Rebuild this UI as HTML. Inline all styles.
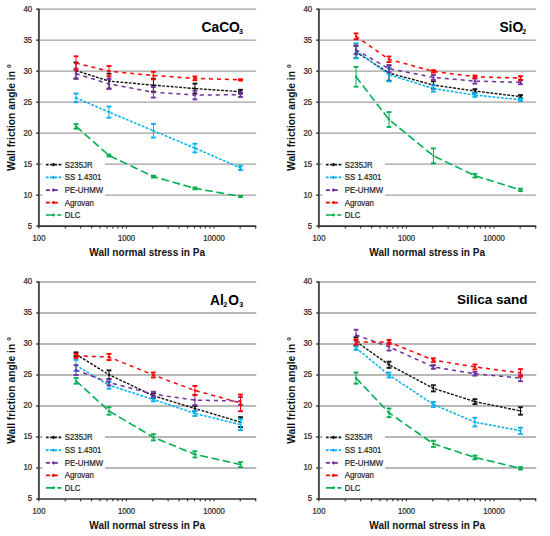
<!DOCTYPE html>
<html><head><meta charset="utf-8"><style>
html,body{margin:0;padding:0;background:#fff;width:550px;height:536px;overflow:hidden;position:relative}
</style></head><body>
<svg width="550" height="536" viewBox="0 0 550 536" style="position:absolute;left:0;top:0">
<rect width="550" height="536" fill="#fff"/>
<g transform="translate(0,0)">
<line x1="38.9" y1="195.2" x2="256.3" y2="195.2" stroke="#a0a0a0" stroke-width="1.3"/>
<line x1="38.9" y1="164.2" x2="256.3" y2="164.2" stroke="#a0a0a0" stroke-width="1.3"/>
<line x1="38.9" y1="133.2" x2="256.3" y2="133.2" stroke="#a0a0a0" stroke-width="1.3"/>
<line x1="38.9" y1="102.2" x2="256.3" y2="102.2" stroke="#a0a0a0" stroke-width="1.3"/>
<line x1="38.9" y1="71.2" x2="256.3" y2="71.2" stroke="#a0a0a0" stroke-width="1.3"/>
<line x1="38.9" y1="40.2" x2="256.3" y2="40.2" stroke="#a0a0a0" stroke-width="1.3"/>
<line x1="38.9" y1="9.2" x2="256.3" y2="9.2" stroke="#a0a0a0" stroke-width="1.3"/>
<line x1="36.4" y1="226.2" x2="38.9" y2="226.2" stroke="#303030" stroke-width="1.6"/>
<text transform="translate(32.1,228.6) scale(1,1.12)" text-anchor="end" font-family='"Liberation Sans", sans-serif' font-size="7.8" fill="#2a2a2a" stroke="#2a2a2a" stroke-width="0.22">5</text>
<line x1="36.4" y1="195.2" x2="38.9" y2="195.2" stroke="#303030" stroke-width="1.6"/>
<text transform="translate(32.1,197.6) scale(1,1.12)" text-anchor="end" font-family='"Liberation Sans", sans-serif' font-size="7.8" fill="#2a2a2a" stroke="#2a2a2a" stroke-width="0.22">10</text>
<line x1="36.4" y1="164.2" x2="38.9" y2="164.2" stroke="#303030" stroke-width="1.6"/>
<text transform="translate(32.1,166.6) scale(1,1.12)" text-anchor="end" font-family='"Liberation Sans", sans-serif' font-size="7.8" fill="#2a2a2a" stroke="#2a2a2a" stroke-width="0.22">15</text>
<line x1="36.4" y1="133.2" x2="38.9" y2="133.2" stroke="#303030" stroke-width="1.6"/>
<text transform="translate(32.1,135.6) scale(1,1.12)" text-anchor="end" font-family='"Liberation Sans", sans-serif' font-size="7.8" fill="#2a2a2a" stroke="#2a2a2a" stroke-width="0.22">20</text>
<line x1="36.4" y1="102.2" x2="38.9" y2="102.2" stroke="#303030" stroke-width="1.6"/>
<text transform="translate(32.1,104.6) scale(1,1.12)" text-anchor="end" font-family='"Liberation Sans", sans-serif' font-size="7.8" fill="#2a2a2a" stroke="#2a2a2a" stroke-width="0.22">25</text>
<line x1="36.4" y1="71.2" x2="38.9" y2="71.2" stroke="#303030" stroke-width="1.6"/>
<text transform="translate(32.1,73.6) scale(1,1.12)" text-anchor="end" font-family='"Liberation Sans", sans-serif' font-size="7.8" fill="#2a2a2a" stroke="#2a2a2a" stroke-width="0.22">30</text>
<line x1="36.4" y1="40.2" x2="38.9" y2="40.2" stroke="#303030" stroke-width="1.6"/>
<text transform="translate(32.1,42.6) scale(1,1.12)" text-anchor="end" font-family='"Liberation Sans", sans-serif' font-size="7.8" fill="#2a2a2a" stroke="#2a2a2a" stroke-width="0.22">35</text>
<line x1="36.4" y1="9.2" x2="38.9" y2="9.2" stroke="#303030" stroke-width="1.6"/>
<text transform="translate(32.1,11.6) scale(1,1.12)" text-anchor="end" font-family='"Liberation Sans", sans-serif' font-size="7.8" fill="#2a2a2a" stroke="#2a2a2a" stroke-width="0.22">40</text>
<line x1="38.9" y1="226.2" x2="38.9" y2="228.4" stroke="#303030" stroke-width="1.2"/>
<line x1="65.24" y1="226.2" x2="65.24" y2="228.4" stroke="#303030" stroke-width="1.2"/>
<line x1="80.65" y1="226.2" x2="80.65" y2="228.4" stroke="#303030" stroke-width="1.2"/>
<line x1="91.58" y1="226.2" x2="91.58" y2="228.4" stroke="#303030" stroke-width="1.2"/>
<line x1="100.06" y1="226.2" x2="100.06" y2="228.4" stroke="#303030" stroke-width="1.2"/>
<line x1="106.99" y1="226.2" x2="106.99" y2="228.4" stroke="#303030" stroke-width="1.2"/>
<line x1="112.85" y1="226.2" x2="112.85" y2="228.4" stroke="#303030" stroke-width="1.2"/>
<line x1="117.92" y1="226.2" x2="117.92" y2="228.4" stroke="#303030" stroke-width="1.2"/>
<line x1="122.4" y1="226.2" x2="122.4" y2="228.4" stroke="#303030" stroke-width="1.2"/>
<line x1="126.4" y1="226.2" x2="126.4" y2="228.4" stroke="#303030" stroke-width="1.2"/>
<line x1="152.74" y1="226.2" x2="152.74" y2="228.4" stroke="#303030" stroke-width="1.2"/>
<line x1="168.15" y1="226.2" x2="168.15" y2="228.4" stroke="#303030" stroke-width="1.2"/>
<line x1="179.08" y1="226.2" x2="179.08" y2="228.4" stroke="#303030" stroke-width="1.2"/>
<line x1="187.56" y1="226.2" x2="187.56" y2="228.4" stroke="#303030" stroke-width="1.2"/>
<line x1="194.49" y1="226.2" x2="194.49" y2="228.4" stroke="#303030" stroke-width="1.2"/>
<line x1="200.35" y1="226.2" x2="200.35" y2="228.4" stroke="#303030" stroke-width="1.2"/>
<line x1="205.42" y1="226.2" x2="205.42" y2="228.4" stroke="#303030" stroke-width="1.2"/>
<line x1="209.9" y1="226.2" x2="209.9" y2="228.4" stroke="#303030" stroke-width="1.2"/>
<line x1="213.9" y1="226.2" x2="213.9" y2="228.4" stroke="#303030" stroke-width="1.2"/>
<line x1="240.24" y1="226.2" x2="240.24" y2="228.4" stroke="#303030" stroke-width="1.2"/>
<line x1="255.65" y1="226.2" x2="255.65" y2="228.4" stroke="#303030" stroke-width="1.2"/>
<text transform="translate(39,240.8) scale(1,1.12)" text-anchor="middle" font-family='"Liberation Sans", sans-serif' font-size="7.7" fill="#2a2a2a" stroke="#2a2a2a" stroke-width="0.22">100</text>
<text transform="translate(126.5,240.8) scale(1,1.12)" text-anchor="middle" font-family='"Liberation Sans", sans-serif' font-size="7.7" fill="#2a2a2a" stroke="#2a2a2a" stroke-width="0.22">1000</text>
<text transform="translate(214,240.8) scale(1,1.12)" text-anchor="middle" font-family='"Liberation Sans", sans-serif' font-size="7.7" fill="#2a2a2a" stroke="#2a2a2a" stroke-width="0.22">10000</text>
<line x1="38.9" y1="8.7" x2="38.9" y2="227.0" stroke="#474747" stroke-width="1.9"/>
<line x1="38.0" y1="226.2" x2="256.3" y2="226.2" stroke="#333" stroke-width="1.7"/>
<text x="89.3" y="256.2" font-family='"Liberation Sans", sans-serif' font-weight="bold" font-size="10.05" fill="#111">Wall normal stress in Pa</text>
<text transform="translate(15.0,117.5) rotate(-90)" text-anchor="middle" font-family='"Liberation Sans", sans-serif' font-weight="bold" font-size="10.25" fill="#111">Wall friction angle in °</text>
<rect x="42.5" y="157" width="62.5" height="64" fill="#fff"/>
<line x1="45.9" y1="164.6" x2="61.4" y2="164.6" stroke="#111111" stroke-width="1.7" stroke-dasharray="2.8 1.4"/>
<path d="M51.5,164.6 L53.5,162.79999999999998 L55.5,164.6 L53.5,166.4Z" fill="#111111"/>
<text transform="translate(64.75,167.5) scale(1,1.1)" font-family='"Liberation Sans", sans-serif' font-size="7.85" fill="#222" stroke="#222" stroke-width="0.18">S235JR</text>
<line x1="45.9" y1="177.4" x2="61.4" y2="177.4" stroke="#00B0F0" stroke-width="1.7" stroke-dasharray="2.7 1.5"/>
<path d="M51.5,177.4 L53.5,175.6 L55.5,177.4 L53.5,179.20000000000002Z" fill="#00B0F0"/>
<text transform="translate(64.75,180.3) scale(1,1.1)" font-family='"Liberation Sans", sans-serif' font-size="7.85" fill="#222" stroke="#222" stroke-width="0.18">SS 1.4301</text>
<line x1="45.9" y1="190.1" x2="61.4" y2="190.1" stroke="#7030A0" stroke-width="1.7" stroke-dasharray="4 3.9"/>
<path d="M51.5,190.1 L53.5,188.29999999999998 L55.5,190.1 L53.5,191.9Z" fill="#7030A0"/>
<text transform="translate(64.75,193) scale(1,1.1)" font-family='"Liberation Sans", sans-serif' font-size="7.85" fill="#222" stroke="#222" stroke-width="0.18">PE-UHMW</text>
<line x1="45.9" y1="202.6" x2="61.4" y2="202.6" stroke="#FF0000" stroke-width="1.7" stroke-dasharray="4 3.9"/>
<path d="M51.5,202.6 L53.5,200.79999999999998 L55.5,202.6 L53.5,204.4Z" fill="#FF0000"/>
<text transform="translate(64.75,205.5) scale(1,1.1)" font-family='"Liberation Sans", sans-serif' font-size="7.85" fill="#222" stroke="#222" stroke-width="0.18">Agrovan</text>
<line x1="45.9" y1="215.0" x2="61.4" y2="215.0" stroke="#00B050" stroke-width="1.7" stroke-dasharray="7.7 3.6"/>
<path d="M51.5,215.0 L53.5,213.2 L55.5,215.0 L53.5,216.8Z" fill="#00B050"/>
<text transform="translate(64.75,217.9) scale(1,1.1)" font-family='"Liberation Sans", sans-serif' font-size="7.85" fill="#222" stroke="#222" stroke-width="0.18">DLC</text>
<path d="M76,70.58 C76,70.58 109,81.12 109,81.12 C109,81.12 153.4,85.15 153.4,85.15 C153.4,85.15 194.9,88.56 194.9,88.56 C194.9,88.56 240.5,91.66 240.5,91.66" fill="none" stroke="#111111" stroke-width="1.4" stroke-dasharray="2.8 1.4"/>
<line x1="76.0" y1="62.52" x2="76.0" y2="78.64" stroke="#111111" stroke-width="1.0"/>
<line x1="73.6" y1="62.52" x2="78.4" y2="62.52" stroke="#111111" stroke-width="1.9"/>
<line x1="73.6" y1="78.64" x2="78.4" y2="78.64" stroke="#111111" stroke-width="1.9"/>
<path d="M74.5,70.58 L76,69.08 L77.5,70.58 L76,72.08Z" fill="#111111"/>
<line x1="109.0" y1="73.68" x2="109.0" y2="88.56" stroke="#111111" stroke-width="1.0"/>
<line x1="106.6" y1="73.68" x2="111.4" y2="73.68" stroke="#111111" stroke-width="1.9"/>
<line x1="106.6" y1="88.56" x2="111.4" y2="88.56" stroke="#111111" stroke-width="1.9"/>
<path d="M107.5,81.12 L109,79.62 L110.5,81.12 L109,82.62Z" fill="#111111"/>
<line x1="153.4" y1="78.64" x2="153.4" y2="91.66" stroke="#111111" stroke-width="1.0"/>
<line x1="151.0" y1="78.64" x2="155.8" y2="78.64" stroke="#111111" stroke-width="1.9"/>
<line x1="151.0" y1="91.66" x2="155.8" y2="91.66" stroke="#111111" stroke-width="1.9"/>
<path d="M151.9,85.15 L153.4,83.65 L154.9,85.15 L153.4,86.65Z" fill="#111111"/>
<line x1="194.9" y1="83.6" x2="194.9" y2="93.52" stroke="#111111" stroke-width="1.0"/>
<line x1="192.5" y1="83.6" x2="197.3" y2="83.6" stroke="#111111" stroke-width="1.9"/>
<line x1="192.5" y1="93.52" x2="197.3" y2="93.52" stroke="#111111" stroke-width="1.9"/>
<path d="M193.4,88.56 L194.9,87.06 L196.4,88.56 L194.9,90.06Z" fill="#111111"/>
<line x1="240.5" y1="89.8" x2="240.5" y2="93.52" stroke="#111111" stroke-width="1.0"/>
<line x1="238.1" y1="89.8" x2="242.9" y2="89.8" stroke="#111111" stroke-width="1.9"/>
<line x1="238.1" y1="93.52" x2="242.9" y2="93.52" stroke="#111111" stroke-width="1.9"/>
<path d="M239,91.66 L240.5,90.16 L242,91.66 L240.5,93.16Z" fill="#111111"/>
<path d="M76,97.86 C76,97.86 109,112.12 109,112.12 C109,112.12 153.4,130.72 153.4,130.72 C153.4,130.72 194.9,148.08 194.9,148.08 C194.9,148.08 240.5,167.92 240.5,167.92" fill="none" stroke="#00B0F0" stroke-width="1.5" stroke-dasharray="2.7 1.5"/>
<line x1="76.0" y1="93.52" x2="76.0" y2="102.2" stroke="#00B0F0" stroke-width="1.0"/>
<line x1="73.6" y1="93.52" x2="78.4" y2="93.52" stroke="#00B0F0" stroke-width="1.9"/>
<line x1="73.6" y1="102.2" x2="78.4" y2="102.2" stroke="#00B0F0" stroke-width="1.9"/>
<path d="M74.5,97.86 L76,96.36 L77.5,97.86 L76,99.36Z" fill="#00B0F0"/>
<line x1="109.0" y1="106.54" x2="109.0" y2="117.7" stroke="#00B0F0" stroke-width="1.0"/>
<line x1="106.6" y1="106.54" x2="111.4" y2="106.54" stroke="#00B0F0" stroke-width="1.9"/>
<line x1="106.6" y1="117.7" x2="111.4" y2="117.7" stroke="#00B0F0" stroke-width="1.9"/>
<path d="M107.5,112.12 L109,110.62 L110.5,112.12 L109,113.62Z" fill="#00B0F0"/>
<line x1="153.4" y1="123.9" x2="153.4" y2="137.54" stroke="#00B0F0" stroke-width="1.0"/>
<line x1="151.0" y1="123.9" x2="155.8" y2="123.9" stroke="#00B0F0" stroke-width="1.9"/>
<line x1="151.0" y1="137.54" x2="155.8" y2="137.54" stroke="#00B0F0" stroke-width="1.9"/>
<path d="M151.9,130.72 L153.4,129.22 L154.9,130.72 L153.4,132.22Z" fill="#00B0F0"/>
<line x1="194.9" y1="143.74" x2="194.9" y2="152.42" stroke="#00B0F0" stroke-width="1.0"/>
<line x1="192.5" y1="143.74" x2="197.3" y2="143.74" stroke="#00B0F0" stroke-width="1.9"/>
<line x1="192.5" y1="152.42" x2="197.3" y2="152.42" stroke="#00B0F0" stroke-width="1.9"/>
<path d="M193.4,148.08 L194.9,146.58 L196.4,148.08 L194.9,149.58Z" fill="#00B0F0"/>
<line x1="240.5" y1="165.75" x2="240.5" y2="170.09" stroke="#00B0F0" stroke-width="1.0"/>
<line x1="238.1" y1="165.75" x2="242.9" y2="165.75" stroke="#00B0F0" stroke-width="1.9"/>
<line x1="238.1" y1="170.09" x2="242.9" y2="170.09" stroke="#00B0F0" stroke-width="1.9"/>
<path d="M239,167.92 L240.5,166.42 L242,167.92 L240.5,169.42Z" fill="#00B0F0"/>
<path d="M76,73.68 C76,73.68 109,83.91 109,83.91 C109,83.91 153.4,92.28 153.4,92.28 C153.4,92.28 194.9,95.07 194.9,95.07 C194.9,95.07 240.5,94.76 240.5,94.76" fill="none" stroke="#7030A0" stroke-width="1.5" stroke-dasharray="4 3.9"/>
<line x1="76.0" y1="68.72" x2="76.0" y2="78.64" stroke="#7030A0" stroke-width="1.0"/>
<line x1="73.6" y1="68.72" x2="78.4" y2="68.72" stroke="#7030A0" stroke-width="1.9"/>
<line x1="73.6" y1="78.64" x2="78.4" y2="78.64" stroke="#7030A0" stroke-width="1.9"/>
<path d="M74.5,73.68 L76,72.18 L77.5,73.68 L76,75.18Z" fill="#7030A0"/>
<line x1="109.0" y1="78.95" x2="109.0" y2="88.87" stroke="#7030A0" stroke-width="1.0"/>
<line x1="106.6" y1="78.95" x2="111.4" y2="78.95" stroke="#7030A0" stroke-width="1.9"/>
<line x1="106.6" y1="88.87" x2="111.4" y2="88.87" stroke="#7030A0" stroke-width="1.9"/>
<path d="M107.5,83.91 L109,82.41 L110.5,83.91 L109,85.41Z" fill="#7030A0"/>
<line x1="153.4" y1="87.01" x2="153.4" y2="97.55" stroke="#7030A0" stroke-width="1.0"/>
<line x1="151.0" y1="87.01" x2="155.8" y2="87.01" stroke="#7030A0" stroke-width="1.9"/>
<line x1="151.0" y1="97.55" x2="155.8" y2="97.55" stroke="#7030A0" stroke-width="1.9"/>
<path d="M151.9,92.28 L153.4,90.78 L154.9,92.28 L153.4,93.78Z" fill="#7030A0"/>
<line x1="194.9" y1="90.73" x2="194.9" y2="99.41" stroke="#7030A0" stroke-width="1.0"/>
<line x1="192.5" y1="90.73" x2="197.3" y2="90.73" stroke="#7030A0" stroke-width="1.9"/>
<line x1="192.5" y1="99.41" x2="197.3" y2="99.41" stroke="#7030A0" stroke-width="1.9"/>
<path d="M193.4,95.07 L194.9,93.57 L196.4,95.07 L194.9,96.57Z" fill="#7030A0"/>
<line x1="240.5" y1="92.59" x2="240.5" y2="96.93" stroke="#7030A0" stroke-width="1.0"/>
<line x1="238.1" y1="92.59" x2="242.9" y2="92.59" stroke="#7030A0" stroke-width="1.9"/>
<line x1="238.1" y1="96.93" x2="242.9" y2="96.93" stroke="#7030A0" stroke-width="1.9"/>
<path d="M239,94.76 L240.5,93.26 L242,94.76 L240.5,96.26Z" fill="#7030A0"/>
<path d="M76,63.14 C76,63.14 109,71.2 109,71.2 C109,71.2 153.4,75.54 153.4,75.54 C153.4,75.54 194.9,78.33 194.9,78.33 C194.9,78.33 240.5,79.88 240.5,79.88" fill="none" stroke="#FF0000" stroke-width="1.5" stroke-dasharray="4 3.9"/>
<line x1="76.0" y1="56.32" x2="76.0" y2="69.96" stroke="#FF0000" stroke-width="1.0"/>
<line x1="73.6" y1="56.32" x2="78.4" y2="56.32" stroke="#FF0000" stroke-width="1.9"/>
<line x1="73.6" y1="69.96" x2="78.4" y2="69.96" stroke="#FF0000" stroke-width="1.9"/>
<path d="M74.5,63.14 L76,61.64 L77.5,63.14 L76,64.64Z" fill="#FF0000"/>
<line x1="109.0" y1="65.99" x2="109.0" y2="76.41" stroke="#FF0000" stroke-width="1.0"/>
<line x1="106.6" y1="65.99" x2="111.4" y2="65.99" stroke="#FF0000" stroke-width="1.9"/>
<line x1="106.6" y1="76.41" x2="111.4" y2="76.41" stroke="#FF0000" stroke-width="1.9"/>
<path d="M107.5,71.2 L109,69.7 L110.5,71.2 L109,72.7Z" fill="#FF0000"/>
<line x1="153.4" y1="71.82" x2="153.4" y2="79.26" stroke="#FF0000" stroke-width="1.0"/>
<line x1="151.0" y1="71.82" x2="155.8" y2="71.82" stroke="#FF0000" stroke-width="1.9"/>
<line x1="151.0" y1="79.26" x2="155.8" y2="79.26" stroke="#FF0000" stroke-width="1.9"/>
<path d="M151.9,75.54 L153.4,74.04 L154.9,75.54 L153.4,77.04Z" fill="#FF0000"/>
<line x1="194.9" y1="76.47" x2="194.9" y2="80.19" stroke="#FF0000" stroke-width="1.0"/>
<line x1="192.5" y1="76.47" x2="197.3" y2="76.47" stroke="#FF0000" stroke-width="1.9"/>
<line x1="192.5" y1="80.19" x2="197.3" y2="80.19" stroke="#FF0000" stroke-width="1.9"/>
<path d="M193.4,78.33 L194.9,76.83 L196.4,78.33 L194.9,79.83Z" fill="#FF0000"/>
<line x1="240.5" y1="79.26" x2="240.5" y2="80.5" stroke="#FF0000" stroke-width="1.0"/>
<line x1="238.1" y1="79.26" x2="242.9" y2="79.26" stroke="#FF0000" stroke-width="1.9"/>
<line x1="238.1" y1="80.5" x2="242.9" y2="80.5" stroke="#FF0000" stroke-width="1.9"/>
<path d="M239,79.88 L240.5,78.38 L242,79.88 L240.5,81.38Z" fill="#FF0000"/>
<path d="M76,126.38 C76,126.38 109,155.52 109,155.52 C109,155.52 153.4,176.6 153.4,176.6 C153.4,176.6 194.9,188.38 194.9,188.38 C194.9,188.38 240.5,196.44 240.5,196.44" fill="none" stroke="#00B050" stroke-width="1.6" stroke-dasharray="7.7 3.6"/>
<line x1="76.0" y1="124.09" x2="76.0" y2="128.67" stroke="#00B050" stroke-width="1.0"/>
<line x1="73.6" y1="124.09" x2="78.4" y2="124.09" stroke="#00B050" stroke-width="1.9"/>
<line x1="73.6" y1="128.67" x2="78.4" y2="128.67" stroke="#00B050" stroke-width="1.9"/>
<path d="M74.5,126.38 L76,124.88 L77.5,126.38 L76,127.88Z" fill="#00B050"/>
<line x1="109.0" y1="154.59" x2="109.0" y2="156.45" stroke="#00B050" stroke-width="1.0"/>
<line x1="106.6" y1="154.59" x2="111.4" y2="154.59" stroke="#00B050" stroke-width="1.9"/>
<line x1="106.6" y1="156.45" x2="111.4" y2="156.45" stroke="#00B050" stroke-width="1.9"/>
<path d="M107.5,155.52 L109,154.02 L110.5,155.52 L109,157.02Z" fill="#00B050"/>
<line x1="153.4" y1="175.67" x2="153.4" y2="177.53" stroke="#00B050" stroke-width="1.0"/>
<line x1="151.0" y1="175.67" x2="155.8" y2="175.67" stroke="#00B050" stroke-width="1.9"/>
<line x1="151.0" y1="177.53" x2="155.8" y2="177.53" stroke="#00B050" stroke-width="1.9"/>
<path d="M151.9,176.6 L153.4,175.1 L154.9,176.6 L153.4,178.1Z" fill="#00B050"/>
<line x1="194.9" y1="187.45" x2="194.9" y2="189.31" stroke="#00B050" stroke-width="1.0"/>
<line x1="192.5" y1="187.45" x2="197.3" y2="187.45" stroke="#00B050" stroke-width="1.9"/>
<line x1="192.5" y1="189.31" x2="197.3" y2="189.31" stroke="#00B050" stroke-width="1.9"/>
<path d="M193.4,188.38 L194.9,186.88 L196.4,188.38 L194.9,189.88Z" fill="#00B050"/>
<line x1="240.5" y1="195.82" x2="240.5" y2="197.06" stroke="#00B050" stroke-width="1.0"/>
<line x1="238.1" y1="195.82" x2="242.9" y2="195.82" stroke="#00B050" stroke-width="1.9"/>
<line x1="238.1" y1="197.06" x2="242.9" y2="197.06" stroke="#00B050" stroke-width="1.9"/>
<path d="M239,196.44 L240.5,194.94 L242,196.44 L240.5,197.94Z" fill="#00B050"/>
<text x="201.5" y="32" font-family='"Liberation Sans", sans-serif' font-weight="bold" font-size="13.8" fill="#000">CaCO<tspan font-size="7.2" dy="2.4" dx="-0.9">3</tspan></text>
</g>
<g transform="translate(280,0)">
<line x1="38.9" y1="195.2" x2="256.3" y2="195.2" stroke="#a0a0a0" stroke-width="1.3"/>
<line x1="38.9" y1="164.2" x2="256.3" y2="164.2" stroke="#a0a0a0" stroke-width="1.3"/>
<line x1="38.9" y1="133.2" x2="256.3" y2="133.2" stroke="#a0a0a0" stroke-width="1.3"/>
<line x1="38.9" y1="102.2" x2="256.3" y2="102.2" stroke="#a0a0a0" stroke-width="1.3"/>
<line x1="38.9" y1="71.2" x2="256.3" y2="71.2" stroke="#a0a0a0" stroke-width="1.3"/>
<line x1="38.9" y1="40.2" x2="256.3" y2="40.2" stroke="#a0a0a0" stroke-width="1.3"/>
<line x1="38.9" y1="9.2" x2="256.3" y2="9.2" stroke="#a0a0a0" stroke-width="1.3"/>
<line x1="36.4" y1="226.2" x2="38.9" y2="226.2" stroke="#303030" stroke-width="1.6"/>
<text transform="translate(32.1,228.6) scale(1,1.12)" text-anchor="end" font-family='"Liberation Sans", sans-serif' font-size="7.8" fill="#2a2a2a" stroke="#2a2a2a" stroke-width="0.22">5</text>
<line x1="36.4" y1="195.2" x2="38.9" y2="195.2" stroke="#303030" stroke-width="1.6"/>
<text transform="translate(32.1,197.6) scale(1,1.12)" text-anchor="end" font-family='"Liberation Sans", sans-serif' font-size="7.8" fill="#2a2a2a" stroke="#2a2a2a" stroke-width="0.22">10</text>
<line x1="36.4" y1="164.2" x2="38.9" y2="164.2" stroke="#303030" stroke-width="1.6"/>
<text transform="translate(32.1,166.6) scale(1,1.12)" text-anchor="end" font-family='"Liberation Sans", sans-serif' font-size="7.8" fill="#2a2a2a" stroke="#2a2a2a" stroke-width="0.22">15</text>
<line x1="36.4" y1="133.2" x2="38.9" y2="133.2" stroke="#303030" stroke-width="1.6"/>
<text transform="translate(32.1,135.6) scale(1,1.12)" text-anchor="end" font-family='"Liberation Sans", sans-serif' font-size="7.8" fill="#2a2a2a" stroke="#2a2a2a" stroke-width="0.22">20</text>
<line x1="36.4" y1="102.2" x2="38.9" y2="102.2" stroke="#303030" stroke-width="1.6"/>
<text transform="translate(32.1,104.6) scale(1,1.12)" text-anchor="end" font-family='"Liberation Sans", sans-serif' font-size="7.8" fill="#2a2a2a" stroke="#2a2a2a" stroke-width="0.22">25</text>
<line x1="36.4" y1="71.2" x2="38.9" y2="71.2" stroke="#303030" stroke-width="1.6"/>
<text transform="translate(32.1,73.6) scale(1,1.12)" text-anchor="end" font-family='"Liberation Sans", sans-serif' font-size="7.8" fill="#2a2a2a" stroke="#2a2a2a" stroke-width="0.22">30</text>
<line x1="36.4" y1="40.2" x2="38.9" y2="40.2" stroke="#303030" stroke-width="1.6"/>
<text transform="translate(32.1,42.6) scale(1,1.12)" text-anchor="end" font-family='"Liberation Sans", sans-serif' font-size="7.8" fill="#2a2a2a" stroke="#2a2a2a" stroke-width="0.22">35</text>
<line x1="36.4" y1="9.2" x2="38.9" y2="9.2" stroke="#303030" stroke-width="1.6"/>
<text transform="translate(32.1,11.6) scale(1,1.12)" text-anchor="end" font-family='"Liberation Sans", sans-serif' font-size="7.8" fill="#2a2a2a" stroke="#2a2a2a" stroke-width="0.22">40</text>
<line x1="38.9" y1="226.2" x2="38.9" y2="228.4" stroke="#303030" stroke-width="1.2"/>
<line x1="65.24" y1="226.2" x2="65.24" y2="228.4" stroke="#303030" stroke-width="1.2"/>
<line x1="80.65" y1="226.2" x2="80.65" y2="228.4" stroke="#303030" stroke-width="1.2"/>
<line x1="91.58" y1="226.2" x2="91.58" y2="228.4" stroke="#303030" stroke-width="1.2"/>
<line x1="100.06" y1="226.2" x2="100.06" y2="228.4" stroke="#303030" stroke-width="1.2"/>
<line x1="106.99" y1="226.2" x2="106.99" y2="228.4" stroke="#303030" stroke-width="1.2"/>
<line x1="112.85" y1="226.2" x2="112.85" y2="228.4" stroke="#303030" stroke-width="1.2"/>
<line x1="117.92" y1="226.2" x2="117.92" y2="228.4" stroke="#303030" stroke-width="1.2"/>
<line x1="122.4" y1="226.2" x2="122.4" y2="228.4" stroke="#303030" stroke-width="1.2"/>
<line x1="126.4" y1="226.2" x2="126.4" y2="228.4" stroke="#303030" stroke-width="1.2"/>
<line x1="152.74" y1="226.2" x2="152.74" y2="228.4" stroke="#303030" stroke-width="1.2"/>
<line x1="168.15" y1="226.2" x2="168.15" y2="228.4" stroke="#303030" stroke-width="1.2"/>
<line x1="179.08" y1="226.2" x2="179.08" y2="228.4" stroke="#303030" stroke-width="1.2"/>
<line x1="187.56" y1="226.2" x2="187.56" y2="228.4" stroke="#303030" stroke-width="1.2"/>
<line x1="194.49" y1="226.2" x2="194.49" y2="228.4" stroke="#303030" stroke-width="1.2"/>
<line x1="200.35" y1="226.2" x2="200.35" y2="228.4" stroke="#303030" stroke-width="1.2"/>
<line x1="205.42" y1="226.2" x2="205.42" y2="228.4" stroke="#303030" stroke-width="1.2"/>
<line x1="209.9" y1="226.2" x2="209.9" y2="228.4" stroke="#303030" stroke-width="1.2"/>
<line x1="213.9" y1="226.2" x2="213.9" y2="228.4" stroke="#303030" stroke-width="1.2"/>
<line x1="240.24" y1="226.2" x2="240.24" y2="228.4" stroke="#303030" stroke-width="1.2"/>
<line x1="255.65" y1="226.2" x2="255.65" y2="228.4" stroke="#303030" stroke-width="1.2"/>
<text transform="translate(39,240.8) scale(1,1.12)" text-anchor="middle" font-family='"Liberation Sans", sans-serif' font-size="7.7" fill="#2a2a2a" stroke="#2a2a2a" stroke-width="0.22">100</text>
<text transform="translate(126.5,240.8) scale(1,1.12)" text-anchor="middle" font-family='"Liberation Sans", sans-serif' font-size="7.7" fill="#2a2a2a" stroke="#2a2a2a" stroke-width="0.22">1000</text>
<text transform="translate(214,240.8) scale(1,1.12)" text-anchor="middle" font-family='"Liberation Sans", sans-serif' font-size="7.7" fill="#2a2a2a" stroke="#2a2a2a" stroke-width="0.22">10000</text>
<line x1="38.9" y1="8.7" x2="38.9" y2="227.0" stroke="#474747" stroke-width="1.9"/>
<line x1="38.0" y1="226.2" x2="256.3" y2="226.2" stroke="#333" stroke-width="1.7"/>
<text x="89.3" y="256.2" font-family='"Liberation Sans", sans-serif' font-weight="bold" font-size="10.05" fill="#111">Wall normal stress in Pa</text>
<text transform="translate(15.0,117.5) rotate(-90)" text-anchor="middle" font-family='"Liberation Sans", sans-serif' font-weight="bold" font-size="10.25" fill="#111">Wall friction angle in °</text>
<rect x="42.5" y="157" width="62.5" height="64" fill="#fff"/>
<line x1="45.9" y1="164.6" x2="61.4" y2="164.6" stroke="#111111" stroke-width="1.7" stroke-dasharray="2.8 1.4"/>
<path d="M51.5,164.6 L53.5,162.79999999999998 L55.5,164.6 L53.5,166.4Z" fill="#111111"/>
<text transform="translate(64.75,167.5) scale(1,1.1)" font-family='"Liberation Sans", sans-serif' font-size="7.85" fill="#222" stroke="#222" stroke-width="0.18">S235JR</text>
<line x1="45.9" y1="177.4" x2="61.4" y2="177.4" stroke="#00B0F0" stroke-width="1.7" stroke-dasharray="2.7 1.5"/>
<path d="M51.5,177.4 L53.5,175.6 L55.5,177.4 L53.5,179.20000000000002Z" fill="#00B0F0"/>
<text transform="translate(64.75,180.3) scale(1,1.1)" font-family='"Liberation Sans", sans-serif' font-size="7.85" fill="#222" stroke="#222" stroke-width="0.18">SS 1.4301</text>
<line x1="45.9" y1="190.1" x2="61.4" y2="190.1" stroke="#7030A0" stroke-width="1.7" stroke-dasharray="4 3.9"/>
<path d="M51.5,190.1 L53.5,188.29999999999998 L55.5,190.1 L53.5,191.9Z" fill="#7030A0"/>
<text transform="translate(64.75,193) scale(1,1.1)" font-family='"Liberation Sans", sans-serif' font-size="7.85" fill="#222" stroke="#222" stroke-width="0.18">PE-UHMW</text>
<line x1="45.9" y1="202.6" x2="61.4" y2="202.6" stroke="#FF0000" stroke-width="1.7" stroke-dasharray="4 3.9"/>
<path d="M51.5,202.6 L53.5,200.79999999999998 L55.5,202.6 L53.5,204.4Z" fill="#FF0000"/>
<text transform="translate(64.75,205.5) scale(1,1.1)" font-family='"Liberation Sans", sans-serif' font-size="7.85" fill="#222" stroke="#222" stroke-width="0.18">Agrovan</text>
<line x1="45.9" y1="215.0" x2="61.4" y2="215.0" stroke="#00B050" stroke-width="1.7" stroke-dasharray="7.7 3.6"/>
<path d="M51.5,215.0 L53.5,213.2 L55.5,215.0 L53.5,216.8Z" fill="#00B050"/>
<text transform="translate(64.75,217.9) scale(1,1.1)" font-family='"Liberation Sans", sans-serif' font-size="7.85" fill="#222" stroke="#222" stroke-width="0.18">DLC</text>
<path d="M76,51.98 C76,51.98 109,73.06 109,73.06 C109,73.06 153.4,85.03 153.4,85.03 C153.4,85.03 194.9,91.04 194.9,91.04 C194.9,91.04 240.5,96.62 240.5,96.62" fill="none" stroke="#111111" stroke-width="1.4" stroke-dasharray="2.8 1.4"/>
<line x1="76.0" y1="45.78" x2="76.0" y2="58.18" stroke="#111111" stroke-width="1.0"/>
<line x1="73.6" y1="45.78" x2="78.4" y2="45.78" stroke="#111111" stroke-width="1.9"/>
<line x1="73.6" y1="58.18" x2="78.4" y2="58.18" stroke="#111111" stroke-width="1.9"/>
<path d="M74.5,51.98 L76,50.48 L77.5,51.98 L76,53.48Z" fill="#111111"/>
<line x1="109.0" y1="65.43" x2="109.0" y2="80.69" stroke="#111111" stroke-width="1.0"/>
<line x1="106.6" y1="65.43" x2="111.4" y2="65.43" stroke="#111111" stroke-width="1.9"/>
<line x1="106.6" y1="80.69" x2="111.4" y2="80.69" stroke="#111111" stroke-width="1.9"/>
<path d="M107.5,73.06 L109,71.56 L110.5,73.06 L109,74.56Z" fill="#111111"/>
<line x1="153.4" y1="81.31" x2="153.4" y2="88.75" stroke="#111111" stroke-width="1.0"/>
<line x1="151.0" y1="81.31" x2="155.8" y2="81.31" stroke="#111111" stroke-width="1.9"/>
<line x1="151.0" y1="88.75" x2="155.8" y2="88.75" stroke="#111111" stroke-width="1.9"/>
<path d="M151.9,85.03 L153.4,83.53 L154.9,85.03 L153.4,86.53Z" fill="#111111"/>
<line x1="194.9" y1="89.18" x2="194.9" y2="92.9" stroke="#111111" stroke-width="1.0"/>
<line x1="192.5" y1="89.18" x2="197.3" y2="89.18" stroke="#111111" stroke-width="1.9"/>
<line x1="192.5" y1="92.9" x2="197.3" y2="92.9" stroke="#111111" stroke-width="1.9"/>
<path d="M193.4,91.04 L194.9,89.54 L196.4,91.04 L194.9,92.54Z" fill="#111111"/>
<line x1="240.5" y1="95.07" x2="240.5" y2="98.17" stroke="#111111" stroke-width="1.0"/>
<line x1="238.1" y1="95.07" x2="242.9" y2="95.07" stroke="#111111" stroke-width="1.9"/>
<line x1="238.1" y1="98.17" x2="242.9" y2="98.17" stroke="#111111" stroke-width="1.9"/>
<path d="M239,96.62 L240.5,95.12 L242,96.62 L240.5,98.12Z" fill="#111111"/>
<path d="M76,50.74 C76,50.74 109,74.61 109,74.61 C109,74.61 153.4,88.56 153.4,88.56 C153.4,88.56 194.9,95.07 194.9,95.07 C194.9,95.07 240.5,99.72 240.5,99.72" fill="none" stroke="#00B0F0" stroke-width="1.5" stroke-dasharray="2.7 1.5"/>
<line x1="76.0" y1="43.3" x2="76.0" y2="58.18" stroke="#00B0F0" stroke-width="1.0"/>
<line x1="73.6" y1="43.3" x2="78.4" y2="43.3" stroke="#00B0F0" stroke-width="1.9"/>
<line x1="73.6" y1="58.18" x2="78.4" y2="58.18" stroke="#00B0F0" stroke-width="1.9"/>
<path d="M74.5,50.74 L76,49.24 L77.5,50.74 L76,52.24Z" fill="#00B0F0"/>
<line x1="109.0" y1="67.91" x2="109.0" y2="81.31" stroke="#00B0F0" stroke-width="1.0"/>
<line x1="106.6" y1="67.91" x2="111.4" y2="67.91" stroke="#00B0F0" stroke-width="1.9"/>
<line x1="106.6" y1="81.31" x2="111.4" y2="81.31" stroke="#00B0F0" stroke-width="1.9"/>
<path d="M107.5,74.61 L109,73.11 L110.5,74.61 L109,76.11Z" fill="#00B0F0"/>
<line x1="153.4" y1="85.46" x2="153.4" y2="91.66" stroke="#00B0F0" stroke-width="1.0"/>
<line x1="151.0" y1="85.46" x2="155.8" y2="85.46" stroke="#00B0F0" stroke-width="1.9"/>
<line x1="151.0" y1="91.66" x2="155.8" y2="91.66" stroke="#00B0F0" stroke-width="1.9"/>
<path d="M151.9,88.56 L153.4,87.06 L154.9,88.56 L153.4,90.06Z" fill="#00B0F0"/>
<line x1="194.9" y1="93.21" x2="194.9" y2="96.93" stroke="#00B0F0" stroke-width="1.0"/>
<line x1="192.5" y1="93.21" x2="197.3" y2="93.21" stroke="#00B0F0" stroke-width="1.9"/>
<line x1="192.5" y1="96.93" x2="197.3" y2="96.93" stroke="#00B0F0" stroke-width="1.9"/>
<path d="M193.4,95.07 L194.9,93.57 L196.4,95.07 L194.9,96.57Z" fill="#00B0F0"/>
<line x1="240.5" y1="98.48" x2="240.5" y2="100.96" stroke="#00B0F0" stroke-width="1.0"/>
<line x1="238.1" y1="98.48" x2="242.9" y2="98.48" stroke="#00B0F0" stroke-width="1.9"/>
<line x1="238.1" y1="100.96" x2="242.9" y2="100.96" stroke="#00B0F0" stroke-width="1.9"/>
<path d="M239,99.72 L240.5,98.22 L242,99.72 L240.5,101.22Z" fill="#00B0F0"/>
<path d="M76,49.81 C76,49.81 109,68.72 109,68.72 C109,68.72 153.4,77.4 153.4,77.4 C153.4,77.4 194.9,81.12 194.9,81.12 C194.9,81.12 240.5,82.36 240.5,82.36" fill="none" stroke="#7030A0" stroke-width="1.5" stroke-dasharray="4 3.9"/>
<line x1="76.0" y1="45.47" x2="76.0" y2="54.15" stroke="#7030A0" stroke-width="1.0"/>
<line x1="73.6" y1="45.47" x2="78.4" y2="45.47" stroke="#7030A0" stroke-width="1.9"/>
<line x1="73.6" y1="54.15" x2="78.4" y2="54.15" stroke="#7030A0" stroke-width="1.9"/>
<path d="M74.5,49.81 L76,48.31 L77.5,49.81 L76,51.31Z" fill="#7030A0"/>
<line x1="109.0" y1="65.25" x2="109.0" y2="72.19" stroke="#7030A0" stroke-width="1.0"/>
<line x1="106.6" y1="65.25" x2="111.4" y2="65.25" stroke="#7030A0" stroke-width="1.9"/>
<line x1="106.6" y1="72.19" x2="111.4" y2="72.19" stroke="#7030A0" stroke-width="1.9"/>
<path d="M107.5,68.72 L109,67.22 L110.5,68.72 L109,70.22Z" fill="#7030A0"/>
<line x1="153.4" y1="75.04" x2="153.4" y2="79.76" stroke="#7030A0" stroke-width="1.0"/>
<line x1="151.0" y1="75.04" x2="155.8" y2="75.04" stroke="#7030A0" stroke-width="1.9"/>
<line x1="151.0" y1="79.76" x2="155.8" y2="79.76" stroke="#7030A0" stroke-width="1.9"/>
<path d="M151.9,77.4 L153.4,75.9 L154.9,77.4 L153.4,78.9Z" fill="#7030A0"/>
<line x1="194.9" y1="78.64" x2="194.9" y2="83.6" stroke="#7030A0" stroke-width="1.0"/>
<line x1="192.5" y1="78.64" x2="197.3" y2="78.64" stroke="#7030A0" stroke-width="1.9"/>
<line x1="192.5" y1="83.6" x2="197.3" y2="83.6" stroke="#7030A0" stroke-width="1.9"/>
<path d="M193.4,81.12 L194.9,79.62 L196.4,81.12 L194.9,82.62Z" fill="#7030A0"/>
<line x1="240.5" y1="80.5" x2="240.5" y2="84.22" stroke="#7030A0" stroke-width="1.0"/>
<line x1="238.1" y1="80.5" x2="242.9" y2="80.5" stroke="#7030A0" stroke-width="1.9"/>
<line x1="238.1" y1="84.22" x2="242.9" y2="84.22" stroke="#7030A0" stroke-width="1.9"/>
<path d="M239,82.36 L240.5,80.86 L242,82.36 L240.5,83.86Z" fill="#7030A0"/>
<path d="M76,36.36 C76,36.36 109,59.3 109,59.3 C109,59.3 153.4,71.39 153.4,71.39 C153.4,71.39 194.9,76.78 194.9,76.78 C194.9,76.78 240.5,78.02 240.5,78.02" fill="none" stroke="#FF0000" stroke-width="1.5" stroke-dasharray="4 3.9"/>
<line x1="76.0" y1="33.44" x2="76.0" y2="39.27" stroke="#FF0000" stroke-width="1.0"/>
<line x1="73.6" y1="33.44" x2="78.4" y2="33.44" stroke="#FF0000" stroke-width="1.9"/>
<line x1="73.6" y1="39.27" x2="78.4" y2="39.27" stroke="#FF0000" stroke-width="1.9"/>
<path d="M74.5,36.36 L76,34.86 L77.5,36.36 L76,37.86Z" fill="#FF0000"/>
<line x1="109.0" y1="56.51" x2="109.0" y2="62.09" stroke="#FF0000" stroke-width="1.0"/>
<line x1="106.6" y1="56.51" x2="111.4" y2="56.51" stroke="#FF0000" stroke-width="1.9"/>
<line x1="106.6" y1="62.09" x2="111.4" y2="62.09" stroke="#FF0000" stroke-width="1.9"/>
<path d="M107.5,59.3 L109,57.8 L110.5,59.3 L109,60.8Z" fill="#FF0000"/>
<line x1="153.4" y1="70.15" x2="153.4" y2="72.63" stroke="#FF0000" stroke-width="1.0"/>
<line x1="151.0" y1="70.15" x2="155.8" y2="70.15" stroke="#FF0000" stroke-width="1.9"/>
<line x1="151.0" y1="72.63" x2="155.8" y2="72.63" stroke="#FF0000" stroke-width="1.9"/>
<path d="M151.9,71.39 L153.4,69.89 L154.9,71.39 L153.4,72.89Z" fill="#FF0000"/>
<line x1="194.9" y1="75.54" x2="194.9" y2="78.02" stroke="#FF0000" stroke-width="1.0"/>
<line x1="192.5" y1="75.54" x2="197.3" y2="75.54" stroke="#FF0000" stroke-width="1.9"/>
<line x1="192.5" y1="78.02" x2="197.3" y2="78.02" stroke="#FF0000" stroke-width="1.9"/>
<path d="M193.4,76.78 L194.9,75.28 L196.4,76.78 L194.9,78.28Z" fill="#FF0000"/>
<line x1="240.5" y1="76.16" x2="240.5" y2="79.88" stroke="#FF0000" stroke-width="1.0"/>
<line x1="238.1" y1="76.16" x2="242.9" y2="76.16" stroke="#FF0000" stroke-width="1.9"/>
<line x1="238.1" y1="79.88" x2="242.9" y2="79.88" stroke="#FF0000" stroke-width="1.9"/>
<path d="M239,78.02 L240.5,76.52 L242,78.02 L240.5,79.52Z" fill="#FF0000"/>
<path d="M76,76.78 C76,76.78 109,119.56 109,119.56 C109,119.56 153.4,155.83 153.4,155.83 C153.4,155.83 194.9,175.67 194.9,175.67 C194.9,175.67 240.5,189.93 240.5,189.93" fill="none" stroke="#00B050" stroke-width="1.6" stroke-dasharray="7.7 3.6"/>
<line x1="76.0" y1="66.86" x2="76.0" y2="86.7" stroke="#00B050" stroke-width="1.0"/>
<line x1="73.6" y1="66.86" x2="78.4" y2="66.86" stroke="#00B050" stroke-width="1.9"/>
<line x1="73.6" y1="86.7" x2="78.4" y2="86.7" stroke="#00B050" stroke-width="1.9"/>
<path d="M74.5,76.78 L76,75.28 L77.5,76.78 L76,78.28Z" fill="#00B050"/>
<line x1="109.0" y1="112.12" x2="109.0" y2="127" stroke="#00B050" stroke-width="1.0"/>
<line x1="106.6" y1="112.12" x2="111.4" y2="112.12" stroke="#00B050" stroke-width="1.9"/>
<line x1="106.6" y1="127" x2="111.4" y2="127" stroke="#00B050" stroke-width="1.9"/>
<path d="M107.5,119.56 L109,118.06 L110.5,119.56 L109,121.06Z" fill="#00B050"/>
<line x1="153.4" y1="148.39" x2="153.4" y2="163.27" stroke="#00B050" stroke-width="1.0"/>
<line x1="151.0" y1="148.39" x2="155.8" y2="148.39" stroke="#00B050" stroke-width="1.9"/>
<line x1="151.0" y1="163.27" x2="155.8" y2="163.27" stroke="#00B050" stroke-width="1.9"/>
<path d="M151.9,155.83 L153.4,154.33 L154.9,155.83 L153.4,157.33Z" fill="#00B050"/>
<line x1="194.9" y1="173.81" x2="194.9" y2="177.53" stroke="#00B050" stroke-width="1.0"/>
<line x1="192.5" y1="173.81" x2="197.3" y2="173.81" stroke="#00B050" stroke-width="1.9"/>
<line x1="192.5" y1="177.53" x2="197.3" y2="177.53" stroke="#00B050" stroke-width="1.9"/>
<path d="M193.4,175.67 L194.9,174.17 L196.4,175.67 L194.9,177.17Z" fill="#00B050"/>
<line x1="240.5" y1="188.69" x2="240.5" y2="191.17" stroke="#00B050" stroke-width="1.0"/>
<line x1="238.1" y1="188.69" x2="242.9" y2="188.69" stroke="#00B050" stroke-width="1.9"/>
<line x1="238.1" y1="191.17" x2="242.9" y2="191.17" stroke="#00B050" stroke-width="1.9"/>
<path d="M239,189.93 L240.5,188.43 L242,189.93 L240.5,191.43Z" fill="#00B050"/>
<text x="219.4" y="31.7" font-family='"Liberation Sans", sans-serif' font-weight="bold" font-size="13.8" fill="#000">SiO<tspan font-size="7.2" dy="2.4" dx="-0.9">2</tspan></text>
</g>
<g transform="translate(0,272.8)">
<line x1="38.9" y1="195.2" x2="256.3" y2="195.2" stroke="#a0a0a0" stroke-width="1.3"/>
<line x1="38.9" y1="164.2" x2="256.3" y2="164.2" stroke="#a0a0a0" stroke-width="1.3"/>
<line x1="38.9" y1="133.2" x2="256.3" y2="133.2" stroke="#a0a0a0" stroke-width="1.3"/>
<line x1="38.9" y1="102.2" x2="256.3" y2="102.2" stroke="#a0a0a0" stroke-width="1.3"/>
<line x1="38.9" y1="71.2" x2="256.3" y2="71.2" stroke="#a0a0a0" stroke-width="1.3"/>
<line x1="38.9" y1="40.2" x2="256.3" y2="40.2" stroke="#a0a0a0" stroke-width="1.3"/>
<line x1="38.9" y1="9.2" x2="256.3" y2="9.2" stroke="#a0a0a0" stroke-width="1.3"/>
<line x1="36.4" y1="226.2" x2="38.9" y2="226.2" stroke="#303030" stroke-width="1.6"/>
<text transform="translate(32.1,228.6) scale(1,1.12)" text-anchor="end" font-family='"Liberation Sans", sans-serif' font-size="7.8" fill="#2a2a2a" stroke="#2a2a2a" stroke-width="0.22">5</text>
<line x1="36.4" y1="195.2" x2="38.9" y2="195.2" stroke="#303030" stroke-width="1.6"/>
<text transform="translate(32.1,197.6) scale(1,1.12)" text-anchor="end" font-family='"Liberation Sans", sans-serif' font-size="7.8" fill="#2a2a2a" stroke="#2a2a2a" stroke-width="0.22">10</text>
<line x1="36.4" y1="164.2" x2="38.9" y2="164.2" stroke="#303030" stroke-width="1.6"/>
<text transform="translate(32.1,166.6) scale(1,1.12)" text-anchor="end" font-family='"Liberation Sans", sans-serif' font-size="7.8" fill="#2a2a2a" stroke="#2a2a2a" stroke-width="0.22">15</text>
<line x1="36.4" y1="133.2" x2="38.9" y2="133.2" stroke="#303030" stroke-width="1.6"/>
<text transform="translate(32.1,135.6) scale(1,1.12)" text-anchor="end" font-family='"Liberation Sans", sans-serif' font-size="7.8" fill="#2a2a2a" stroke="#2a2a2a" stroke-width="0.22">20</text>
<line x1="36.4" y1="102.2" x2="38.9" y2="102.2" stroke="#303030" stroke-width="1.6"/>
<text transform="translate(32.1,104.6) scale(1,1.12)" text-anchor="end" font-family='"Liberation Sans", sans-serif' font-size="7.8" fill="#2a2a2a" stroke="#2a2a2a" stroke-width="0.22">25</text>
<line x1="36.4" y1="71.2" x2="38.9" y2="71.2" stroke="#303030" stroke-width="1.6"/>
<text transform="translate(32.1,73.6) scale(1,1.12)" text-anchor="end" font-family='"Liberation Sans", sans-serif' font-size="7.8" fill="#2a2a2a" stroke="#2a2a2a" stroke-width="0.22">30</text>
<line x1="36.4" y1="40.2" x2="38.9" y2="40.2" stroke="#303030" stroke-width="1.6"/>
<text transform="translate(32.1,42.6) scale(1,1.12)" text-anchor="end" font-family='"Liberation Sans", sans-serif' font-size="7.8" fill="#2a2a2a" stroke="#2a2a2a" stroke-width="0.22">35</text>
<line x1="36.4" y1="9.2" x2="38.9" y2="9.2" stroke="#303030" stroke-width="1.6"/>
<text transform="translate(32.1,11.6) scale(1,1.12)" text-anchor="end" font-family='"Liberation Sans", sans-serif' font-size="7.8" fill="#2a2a2a" stroke="#2a2a2a" stroke-width="0.22">40</text>
<line x1="38.9" y1="226.2" x2="38.9" y2="228.4" stroke="#303030" stroke-width="1.2"/>
<line x1="65.24" y1="226.2" x2="65.24" y2="228.4" stroke="#303030" stroke-width="1.2"/>
<line x1="80.65" y1="226.2" x2="80.65" y2="228.4" stroke="#303030" stroke-width="1.2"/>
<line x1="91.58" y1="226.2" x2="91.58" y2="228.4" stroke="#303030" stroke-width="1.2"/>
<line x1="100.06" y1="226.2" x2="100.06" y2="228.4" stroke="#303030" stroke-width="1.2"/>
<line x1="106.99" y1="226.2" x2="106.99" y2="228.4" stroke="#303030" stroke-width="1.2"/>
<line x1="112.85" y1="226.2" x2="112.85" y2="228.4" stroke="#303030" stroke-width="1.2"/>
<line x1="117.92" y1="226.2" x2="117.92" y2="228.4" stroke="#303030" stroke-width="1.2"/>
<line x1="122.4" y1="226.2" x2="122.4" y2="228.4" stroke="#303030" stroke-width="1.2"/>
<line x1="126.4" y1="226.2" x2="126.4" y2="228.4" stroke="#303030" stroke-width="1.2"/>
<line x1="152.74" y1="226.2" x2="152.74" y2="228.4" stroke="#303030" stroke-width="1.2"/>
<line x1="168.15" y1="226.2" x2="168.15" y2="228.4" stroke="#303030" stroke-width="1.2"/>
<line x1="179.08" y1="226.2" x2="179.08" y2="228.4" stroke="#303030" stroke-width="1.2"/>
<line x1="187.56" y1="226.2" x2="187.56" y2="228.4" stroke="#303030" stroke-width="1.2"/>
<line x1="194.49" y1="226.2" x2="194.49" y2="228.4" stroke="#303030" stroke-width="1.2"/>
<line x1="200.35" y1="226.2" x2="200.35" y2="228.4" stroke="#303030" stroke-width="1.2"/>
<line x1="205.42" y1="226.2" x2="205.42" y2="228.4" stroke="#303030" stroke-width="1.2"/>
<line x1="209.9" y1="226.2" x2="209.9" y2="228.4" stroke="#303030" stroke-width="1.2"/>
<line x1="213.9" y1="226.2" x2="213.9" y2="228.4" stroke="#303030" stroke-width="1.2"/>
<line x1="240.24" y1="226.2" x2="240.24" y2="228.4" stroke="#303030" stroke-width="1.2"/>
<line x1="255.65" y1="226.2" x2="255.65" y2="228.4" stroke="#303030" stroke-width="1.2"/>
<text transform="translate(39,240.8) scale(1,1.12)" text-anchor="middle" font-family='"Liberation Sans", sans-serif' font-size="7.7" fill="#2a2a2a" stroke="#2a2a2a" stroke-width="0.22">100</text>
<text transform="translate(126.5,240.8) scale(1,1.12)" text-anchor="middle" font-family='"Liberation Sans", sans-serif' font-size="7.7" fill="#2a2a2a" stroke="#2a2a2a" stroke-width="0.22">1000</text>
<text transform="translate(214,240.8) scale(1,1.12)" text-anchor="middle" font-family='"Liberation Sans", sans-serif' font-size="7.7" fill="#2a2a2a" stroke="#2a2a2a" stroke-width="0.22">10000</text>
<line x1="38.9" y1="8.7" x2="38.9" y2="227.0" stroke="#474747" stroke-width="1.9"/>
<line x1="38.0" y1="226.2" x2="256.3" y2="226.2" stroke="#333" stroke-width="1.7"/>
<text x="89.3" y="256.2" font-family='"Liberation Sans", sans-serif' font-weight="bold" font-size="10.05" fill="#111">Wall normal stress in Pa</text>
<text transform="translate(15.0,117.5) rotate(-90)" text-anchor="middle" font-family='"Liberation Sans", sans-serif' font-weight="bold" font-size="10.25" fill="#111">Wall friction angle in °</text>
<rect x="42.5" y="157" width="62.5" height="64" fill="#fff"/>
<line x1="45.9" y1="164.6" x2="61.4" y2="164.6" stroke="#111111" stroke-width="1.7" stroke-dasharray="2.8 1.4"/>
<path d="M51.5,164.6 L53.5,162.79999999999998 L55.5,164.6 L53.5,166.4Z" fill="#111111"/>
<text transform="translate(64.75,167.5) scale(1,1.1)" font-family='"Liberation Sans", sans-serif' font-size="7.85" fill="#222" stroke="#222" stroke-width="0.18">S235JR</text>
<line x1="45.9" y1="177.4" x2="61.4" y2="177.4" stroke="#00B0F0" stroke-width="1.7" stroke-dasharray="2.7 1.5"/>
<path d="M51.5,177.4 L53.5,175.6 L55.5,177.4 L53.5,179.20000000000002Z" fill="#00B0F0"/>
<text transform="translate(64.75,180.3) scale(1,1.1)" font-family='"Liberation Sans", sans-serif' font-size="7.85" fill="#222" stroke="#222" stroke-width="0.18">SS 1.4301</text>
<line x1="45.9" y1="190.1" x2="61.4" y2="190.1" stroke="#7030A0" stroke-width="1.7" stroke-dasharray="4 3.9"/>
<path d="M51.5,190.1 L53.5,188.29999999999998 L55.5,190.1 L53.5,191.9Z" fill="#7030A0"/>
<text transform="translate(64.75,193) scale(1,1.1)" font-family='"Liberation Sans", sans-serif' font-size="7.85" fill="#222" stroke="#222" stroke-width="0.18">PE-UHMW</text>
<line x1="45.9" y1="202.6" x2="61.4" y2="202.6" stroke="#FF0000" stroke-width="1.7" stroke-dasharray="4 3.9"/>
<path d="M51.5,202.6 L53.5,200.79999999999998 L55.5,202.6 L53.5,204.4Z" fill="#FF0000"/>
<text transform="translate(64.75,205.5) scale(1,1.1)" font-family='"Liberation Sans", sans-serif' font-size="7.85" fill="#222" stroke="#222" stroke-width="0.18">Agrovan</text>
<line x1="45.9" y1="215.0" x2="61.4" y2="215.0" stroke="#00B050" stroke-width="1.7" stroke-dasharray="7.7 3.6"/>
<path d="M51.5,215.0 L53.5,213.2 L55.5,215.0 L53.5,216.8Z" fill="#00B050"/>
<text transform="translate(64.75,217.9) scale(1,1.1)" font-family='"Liberation Sans", sans-serif' font-size="7.85" fill="#222" stroke="#222" stroke-width="0.18">DLC</text>
<path d="M76,81.43 C76,81.43 109,101.89 109,101.89 C109,101.89 153.4,122.97 153.4,122.97 C153.4,122.97 194.9,135.68 194.9,135.68 C194.9,135.68 240.5,149.32 240.5,149.32" fill="none" stroke="#111111" stroke-width="1.4" stroke-dasharray="2.8 1.4"/>
<line x1="76.0" y1="79.57" x2="76.0" y2="83.29" stroke="#111111" stroke-width="1.0"/>
<line x1="73.6" y1="79.57" x2="78.4" y2="79.57" stroke="#111111" stroke-width="1.9"/>
<line x1="73.6" y1="83.29" x2="78.4" y2="83.29" stroke="#111111" stroke-width="1.9"/>
<path d="M74.5,81.43 L76,79.93 L77.5,81.43 L76,82.93Z" fill="#111111"/>
<line x1="109.0" y1="97.55" x2="109.0" y2="106.23" stroke="#111111" stroke-width="1.0"/>
<line x1="106.6" y1="97.55" x2="111.4" y2="97.55" stroke="#111111" stroke-width="1.9"/>
<line x1="106.6" y1="106.23" x2="111.4" y2="106.23" stroke="#111111" stroke-width="1.9"/>
<path d="M107.5,101.89 L109,100.39 L110.5,101.89 L109,103.39Z" fill="#111111"/>
<line x1="153.4" y1="120.49" x2="153.4" y2="125.45" stroke="#111111" stroke-width="1.0"/>
<line x1="151.0" y1="120.49" x2="155.8" y2="120.49" stroke="#111111" stroke-width="1.9"/>
<line x1="151.0" y1="125.45" x2="155.8" y2="125.45" stroke="#111111" stroke-width="1.9"/>
<path d="M151.9,122.97 L153.4,121.47 L154.9,122.97 L153.4,124.47Z" fill="#111111"/>
<line x1="194.9" y1="133.2" x2="194.9" y2="138.16" stroke="#111111" stroke-width="1.0"/>
<line x1="192.5" y1="133.2" x2="197.3" y2="133.2" stroke="#111111" stroke-width="1.9"/>
<line x1="192.5" y1="138.16" x2="197.3" y2="138.16" stroke="#111111" stroke-width="1.9"/>
<path d="M193.4,135.68 L194.9,134.18 L196.4,135.68 L194.9,137.18Z" fill="#111111"/>
<line x1="240.5" y1="144.36" x2="240.5" y2="154.28" stroke="#111111" stroke-width="1.0"/>
<line x1="238.1" y1="144.36" x2="242.9" y2="144.36" stroke="#111111" stroke-width="1.9"/>
<line x1="238.1" y1="154.28" x2="242.9" y2="154.28" stroke="#111111" stroke-width="1.9"/>
<path d="M239,149.32 L240.5,147.82 L242,149.32 L240.5,150.82Z" fill="#111111"/>
<path d="M76,92.59 C76,92.59 109,112.43 109,112.43 C109,112.43 153.4,126.69 153.4,126.69 C153.4,126.69 194.9,140.64 194.9,140.64 C194.9,140.64 240.5,151.8 240.5,151.8" fill="none" stroke="#00B0F0" stroke-width="1.5" stroke-dasharray="2.7 1.5"/>
<line x1="76.0" y1="87.01" x2="76.0" y2="98.17" stroke="#00B0F0" stroke-width="1.0"/>
<line x1="73.6" y1="87.01" x2="78.4" y2="87.01" stroke="#00B0F0" stroke-width="1.9"/>
<line x1="73.6" y1="98.17" x2="78.4" y2="98.17" stroke="#00B0F0" stroke-width="1.9"/>
<path d="M74.5,92.59 L76,91.09 L77.5,92.59 L76,94.09Z" fill="#00B0F0"/>
<line x1="109.0" y1="109.02" x2="109.0" y2="115.84" stroke="#00B0F0" stroke-width="1.0"/>
<line x1="106.6" y1="109.02" x2="111.4" y2="109.02" stroke="#00B0F0" stroke-width="1.9"/>
<line x1="106.6" y1="115.84" x2="111.4" y2="115.84" stroke="#00B0F0" stroke-width="1.9"/>
<path d="M107.5,112.43 L109,110.93 L110.5,112.43 L109,113.93Z" fill="#00B0F0"/>
<line x1="153.4" y1="124.83" x2="153.4" y2="128.55" stroke="#00B0F0" stroke-width="1.0"/>
<line x1="151.0" y1="124.83" x2="155.8" y2="124.83" stroke="#00B0F0" stroke-width="1.9"/>
<line x1="151.0" y1="128.55" x2="155.8" y2="128.55" stroke="#00B0F0" stroke-width="1.9"/>
<path d="M151.9,126.69 L153.4,125.19 L154.9,126.69 L153.4,128.19Z" fill="#00B0F0"/>
<line x1="194.9" y1="138.16" x2="194.9" y2="143.12" stroke="#00B0F0" stroke-width="1.0"/>
<line x1="192.5" y1="138.16" x2="197.3" y2="138.16" stroke="#00B0F0" stroke-width="1.9"/>
<line x1="192.5" y1="143.12" x2="197.3" y2="143.12" stroke="#00B0F0" stroke-width="1.9"/>
<path d="M193.4,140.64 L194.9,139.14 L196.4,140.64 L194.9,142.14Z" fill="#00B0F0"/>
<line x1="240.5" y1="146.34" x2="240.5" y2="157.26" stroke="#00B0F0" stroke-width="1.0"/>
<line x1="238.1" y1="146.34" x2="242.9" y2="146.34" stroke="#00B0F0" stroke-width="1.9"/>
<line x1="238.1" y1="157.26" x2="242.9" y2="157.26" stroke="#00B0F0" stroke-width="1.9"/>
<path d="M239,151.8 L240.5,150.3 L242,151.8 L240.5,153.3Z" fill="#00B0F0"/>
<path d="M76,97.24 C76,97.24 109,109.64 109,109.64 C109,109.64 153.4,121.42 153.4,121.42 C153.4,121.42 194.9,127.31 194.9,127.31 C194.9,127.31 240.5,128.24 240.5,128.24" fill="none" stroke="#7030A0" stroke-width="1.5" stroke-dasharray="4 3.9"/>
<line x1="76.0" y1="92.28" x2="76.0" y2="102.2" stroke="#7030A0" stroke-width="1.0"/>
<line x1="73.6" y1="92.28" x2="78.4" y2="92.28" stroke="#7030A0" stroke-width="1.9"/>
<line x1="73.6" y1="102.2" x2="78.4" y2="102.2" stroke="#7030A0" stroke-width="1.9"/>
<path d="M74.5,97.24 L76,95.74 L77.5,97.24 L76,98.74Z" fill="#7030A0"/>
<line x1="109.0" y1="106.66" x2="109.0" y2="112.62" stroke="#7030A0" stroke-width="1.0"/>
<line x1="106.6" y1="106.66" x2="111.4" y2="106.66" stroke="#7030A0" stroke-width="1.9"/>
<line x1="106.6" y1="112.62" x2="111.4" y2="112.62" stroke="#7030A0" stroke-width="1.9"/>
<path d="M107.5,109.64 L109,108.14 L110.5,109.64 L109,111.14Z" fill="#7030A0"/>
<line x1="153.4" y1="118.94" x2="153.4" y2="123.9" stroke="#7030A0" stroke-width="1.0"/>
<line x1="151.0" y1="118.94" x2="155.8" y2="118.94" stroke="#7030A0" stroke-width="1.9"/>
<line x1="151.0" y1="123.9" x2="155.8" y2="123.9" stroke="#7030A0" stroke-width="1.9"/>
<path d="M151.9,121.42 L153.4,119.92 L154.9,121.42 L153.4,122.92Z" fill="#7030A0"/>
<line x1="194.9" y1="122.35" x2="194.9" y2="132.27" stroke="#7030A0" stroke-width="1.0"/>
<line x1="192.5" y1="122.35" x2="197.3" y2="122.35" stroke="#7030A0" stroke-width="1.9"/>
<line x1="192.5" y1="132.27" x2="197.3" y2="132.27" stroke="#7030A0" stroke-width="1.9"/>
<path d="M193.4,127.31 L194.9,125.81 L196.4,127.31 L194.9,128.81Z" fill="#7030A0"/>
<line x1="240.5" y1="124.27" x2="240.5" y2="132.21" stroke="#7030A0" stroke-width="1.0"/>
<line x1="238.1" y1="124.27" x2="242.9" y2="124.27" stroke="#7030A0" stroke-width="1.9"/>
<line x1="238.1" y1="132.21" x2="242.9" y2="132.21" stroke="#7030A0" stroke-width="1.9"/>
<path d="M239,128.24 L240.5,126.74 L242,128.24 L240.5,129.74Z" fill="#7030A0"/>
<path d="M76,82.98 C76,82.98 109,84.22 109,84.22 C109,84.22 153.4,102.2 153.4,102.2 C153.4,102.2 194.9,117.7 194.9,117.7 C194.9,117.7 240.5,130.1 240.5,130.1" fill="none" stroke="#FF0000" stroke-width="1.5" stroke-dasharray="4 3.9"/>
<line x1="76.0" y1="80.81" x2="76.0" y2="85.15" stroke="#FF0000" stroke-width="1.0"/>
<line x1="73.6" y1="80.81" x2="78.4" y2="80.81" stroke="#FF0000" stroke-width="1.9"/>
<line x1="73.6" y1="85.15" x2="78.4" y2="85.15" stroke="#FF0000" stroke-width="1.9"/>
<path d="M74.5,82.98 L76,81.48 L77.5,82.98 L76,84.48Z" fill="#FF0000"/>
<line x1="109.0" y1="81.12" x2="109.0" y2="87.32" stroke="#FF0000" stroke-width="1.0"/>
<line x1="106.6" y1="81.12" x2="111.4" y2="81.12" stroke="#FF0000" stroke-width="1.9"/>
<line x1="106.6" y1="87.32" x2="111.4" y2="87.32" stroke="#FF0000" stroke-width="1.9"/>
<path d="M107.5,84.22 L109,82.72 L110.5,84.22 L109,85.72Z" fill="#FF0000"/>
<line x1="153.4" y1="99.72" x2="153.4" y2="104.68" stroke="#FF0000" stroke-width="1.0"/>
<line x1="151.0" y1="99.72" x2="155.8" y2="99.72" stroke="#FF0000" stroke-width="1.9"/>
<line x1="151.0" y1="104.68" x2="155.8" y2="104.68" stroke="#FF0000" stroke-width="1.9"/>
<path d="M151.9,102.2 L153.4,100.7 L154.9,102.2 L153.4,103.7Z" fill="#FF0000"/>
<line x1="194.9" y1="113.17" x2="194.9" y2="122.23" stroke="#FF0000" stroke-width="1.0"/>
<line x1="192.5" y1="113.17" x2="197.3" y2="113.17" stroke="#FF0000" stroke-width="1.9"/>
<line x1="192.5" y1="122.23" x2="197.3" y2="122.23" stroke="#FF0000" stroke-width="1.9"/>
<path d="M193.4,117.7 L194.9,116.2 L196.4,117.7 L194.9,119.2Z" fill="#FF0000"/>
<line x1="240.5" y1="121.73" x2="240.5" y2="138.47" stroke="#FF0000" stroke-width="1.0"/>
<line x1="238.1" y1="121.73" x2="242.9" y2="121.73" stroke="#FF0000" stroke-width="1.9"/>
<line x1="238.1" y1="138.47" x2="242.9" y2="138.47" stroke="#FF0000" stroke-width="1.9"/>
<path d="M239,130.1 L240.5,128.6 L242,130.1 L240.5,131.6Z" fill="#FF0000"/>
<path d="M76,108.09 C76,108.09 109,138.16 109,138.16 C109,138.16 153.4,164.51 153.4,164.51 C153.4,164.51 194.9,181.56 194.9,181.56 C194.9,181.56 240.5,191.79 240.5,191.79" fill="none" stroke="#00B050" stroke-width="1.6" stroke-dasharray="7.7 3.6"/>
<line x1="76.0" y1="105.3" x2="76.0" y2="110.88" stroke="#00B050" stroke-width="1.0"/>
<line x1="73.6" y1="105.3" x2="78.4" y2="105.3" stroke="#00B050" stroke-width="1.9"/>
<line x1="73.6" y1="110.88" x2="78.4" y2="110.88" stroke="#00B050" stroke-width="1.9"/>
<path d="M74.5,108.09 L76,106.59 L77.5,108.09 L76,109.59Z" fill="#00B050"/>
<line x1="109.0" y1="134.44" x2="109.0" y2="141.88" stroke="#00B050" stroke-width="1.0"/>
<line x1="106.6" y1="134.44" x2="111.4" y2="134.44" stroke="#00B050" stroke-width="1.9"/>
<line x1="106.6" y1="141.88" x2="111.4" y2="141.88" stroke="#00B050" stroke-width="1.9"/>
<path d="M107.5,138.16 L109,136.66 L110.5,138.16 L109,139.66Z" fill="#00B050"/>
<line x1="153.4" y1="161.41" x2="153.4" y2="167.61" stroke="#00B050" stroke-width="1.0"/>
<line x1="151.0" y1="161.41" x2="155.8" y2="161.41" stroke="#00B050" stroke-width="1.9"/>
<line x1="151.0" y1="167.61" x2="155.8" y2="167.61" stroke="#00B050" stroke-width="1.9"/>
<path d="M151.9,164.51 L153.4,163.01 L154.9,164.51 L153.4,166.01Z" fill="#00B050"/>
<line x1="194.9" y1="178.46" x2="194.9" y2="184.66" stroke="#00B050" stroke-width="1.0"/>
<line x1="192.5" y1="178.46" x2="197.3" y2="178.46" stroke="#00B050" stroke-width="1.9"/>
<line x1="192.5" y1="184.66" x2="197.3" y2="184.66" stroke="#00B050" stroke-width="1.9"/>
<path d="M193.4,181.56 L194.9,180.06 L196.4,181.56 L194.9,183.06Z" fill="#00B050"/>
<line x1="240.5" y1="189.31" x2="240.5" y2="194.27" stroke="#00B050" stroke-width="1.0"/>
<line x1="238.1" y1="189.31" x2="242.9" y2="189.31" stroke="#00B050" stroke-width="1.9"/>
<line x1="238.1" y1="194.27" x2="242.9" y2="194.27" stroke="#00B050" stroke-width="1.9"/>
<path d="M239,191.79 L240.5,190.29 L242,191.79 L240.5,193.29Z" fill="#00B050"/>
<text x="210" y="32.2" font-family='"Liberation Sans", sans-serif' font-weight="bold" font-size="13.8" fill="#000">Al<tspan x="223.3" font-size="7.2" dy="2.4">2</tspan><tspan x="228.2" dy="-2.4">O</tspan><tspan x="239.3" font-size="7.2" dy="2.4">3</tspan></text>
</g>
<g transform="translate(280,272.8)">
<line x1="38.9" y1="195.2" x2="256.3" y2="195.2" stroke="#a0a0a0" stroke-width="1.3"/>
<line x1="38.9" y1="164.2" x2="256.3" y2="164.2" stroke="#a0a0a0" stroke-width="1.3"/>
<line x1="38.9" y1="133.2" x2="256.3" y2="133.2" stroke="#a0a0a0" stroke-width="1.3"/>
<line x1="38.9" y1="102.2" x2="256.3" y2="102.2" stroke="#a0a0a0" stroke-width="1.3"/>
<line x1="38.9" y1="71.2" x2="256.3" y2="71.2" stroke="#a0a0a0" stroke-width="1.3"/>
<line x1="38.9" y1="40.2" x2="256.3" y2="40.2" stroke="#a0a0a0" stroke-width="1.3"/>
<line x1="38.9" y1="9.2" x2="256.3" y2="9.2" stroke="#a0a0a0" stroke-width="1.3"/>
<line x1="36.4" y1="226.2" x2="38.9" y2="226.2" stroke="#303030" stroke-width="1.6"/>
<text transform="translate(32.1,228.6) scale(1,1.12)" text-anchor="end" font-family='"Liberation Sans", sans-serif' font-size="7.8" fill="#2a2a2a" stroke="#2a2a2a" stroke-width="0.22">5</text>
<line x1="36.4" y1="195.2" x2="38.9" y2="195.2" stroke="#303030" stroke-width="1.6"/>
<text transform="translate(32.1,197.6) scale(1,1.12)" text-anchor="end" font-family='"Liberation Sans", sans-serif' font-size="7.8" fill="#2a2a2a" stroke="#2a2a2a" stroke-width="0.22">10</text>
<line x1="36.4" y1="164.2" x2="38.9" y2="164.2" stroke="#303030" stroke-width="1.6"/>
<text transform="translate(32.1,166.6) scale(1,1.12)" text-anchor="end" font-family='"Liberation Sans", sans-serif' font-size="7.8" fill="#2a2a2a" stroke="#2a2a2a" stroke-width="0.22">15</text>
<line x1="36.4" y1="133.2" x2="38.9" y2="133.2" stroke="#303030" stroke-width="1.6"/>
<text transform="translate(32.1,135.6) scale(1,1.12)" text-anchor="end" font-family='"Liberation Sans", sans-serif' font-size="7.8" fill="#2a2a2a" stroke="#2a2a2a" stroke-width="0.22">20</text>
<line x1="36.4" y1="102.2" x2="38.9" y2="102.2" stroke="#303030" stroke-width="1.6"/>
<text transform="translate(32.1,104.6) scale(1,1.12)" text-anchor="end" font-family='"Liberation Sans", sans-serif' font-size="7.8" fill="#2a2a2a" stroke="#2a2a2a" stroke-width="0.22">25</text>
<line x1="36.4" y1="71.2" x2="38.9" y2="71.2" stroke="#303030" stroke-width="1.6"/>
<text transform="translate(32.1,73.6) scale(1,1.12)" text-anchor="end" font-family='"Liberation Sans", sans-serif' font-size="7.8" fill="#2a2a2a" stroke="#2a2a2a" stroke-width="0.22">30</text>
<line x1="36.4" y1="40.2" x2="38.9" y2="40.2" stroke="#303030" stroke-width="1.6"/>
<text transform="translate(32.1,42.6) scale(1,1.12)" text-anchor="end" font-family='"Liberation Sans", sans-serif' font-size="7.8" fill="#2a2a2a" stroke="#2a2a2a" stroke-width="0.22">35</text>
<line x1="36.4" y1="9.2" x2="38.9" y2="9.2" stroke="#303030" stroke-width="1.6"/>
<text transform="translate(32.1,11.6) scale(1,1.12)" text-anchor="end" font-family='"Liberation Sans", sans-serif' font-size="7.8" fill="#2a2a2a" stroke="#2a2a2a" stroke-width="0.22">40</text>
<line x1="38.9" y1="226.2" x2="38.9" y2="228.4" stroke="#303030" stroke-width="1.2"/>
<line x1="65.24" y1="226.2" x2="65.24" y2="228.4" stroke="#303030" stroke-width="1.2"/>
<line x1="80.65" y1="226.2" x2="80.65" y2="228.4" stroke="#303030" stroke-width="1.2"/>
<line x1="91.58" y1="226.2" x2="91.58" y2="228.4" stroke="#303030" stroke-width="1.2"/>
<line x1="100.06" y1="226.2" x2="100.06" y2="228.4" stroke="#303030" stroke-width="1.2"/>
<line x1="106.99" y1="226.2" x2="106.99" y2="228.4" stroke="#303030" stroke-width="1.2"/>
<line x1="112.85" y1="226.2" x2="112.85" y2="228.4" stroke="#303030" stroke-width="1.2"/>
<line x1="117.92" y1="226.2" x2="117.92" y2="228.4" stroke="#303030" stroke-width="1.2"/>
<line x1="122.4" y1="226.2" x2="122.4" y2="228.4" stroke="#303030" stroke-width="1.2"/>
<line x1="126.4" y1="226.2" x2="126.4" y2="228.4" stroke="#303030" stroke-width="1.2"/>
<line x1="152.74" y1="226.2" x2="152.74" y2="228.4" stroke="#303030" stroke-width="1.2"/>
<line x1="168.15" y1="226.2" x2="168.15" y2="228.4" stroke="#303030" stroke-width="1.2"/>
<line x1="179.08" y1="226.2" x2="179.08" y2="228.4" stroke="#303030" stroke-width="1.2"/>
<line x1="187.56" y1="226.2" x2="187.56" y2="228.4" stroke="#303030" stroke-width="1.2"/>
<line x1="194.49" y1="226.2" x2="194.49" y2="228.4" stroke="#303030" stroke-width="1.2"/>
<line x1="200.35" y1="226.2" x2="200.35" y2="228.4" stroke="#303030" stroke-width="1.2"/>
<line x1="205.42" y1="226.2" x2="205.42" y2="228.4" stroke="#303030" stroke-width="1.2"/>
<line x1="209.9" y1="226.2" x2="209.9" y2="228.4" stroke="#303030" stroke-width="1.2"/>
<line x1="213.9" y1="226.2" x2="213.9" y2="228.4" stroke="#303030" stroke-width="1.2"/>
<line x1="240.24" y1="226.2" x2="240.24" y2="228.4" stroke="#303030" stroke-width="1.2"/>
<line x1="255.65" y1="226.2" x2="255.65" y2="228.4" stroke="#303030" stroke-width="1.2"/>
<text transform="translate(39,240.8) scale(1,1.12)" text-anchor="middle" font-family='"Liberation Sans", sans-serif' font-size="7.7" fill="#2a2a2a" stroke="#2a2a2a" stroke-width="0.22">100</text>
<text transform="translate(126.5,240.8) scale(1,1.12)" text-anchor="middle" font-family='"Liberation Sans", sans-serif' font-size="7.7" fill="#2a2a2a" stroke="#2a2a2a" stroke-width="0.22">1000</text>
<text transform="translate(214,240.8) scale(1,1.12)" text-anchor="middle" font-family='"Liberation Sans", sans-serif' font-size="7.7" fill="#2a2a2a" stroke="#2a2a2a" stroke-width="0.22">10000</text>
<line x1="38.9" y1="8.7" x2="38.9" y2="227.0" stroke="#474747" stroke-width="1.9"/>
<line x1="38.0" y1="226.2" x2="256.3" y2="226.2" stroke="#333" stroke-width="1.7"/>
<text x="89.3" y="256.2" font-family='"Liberation Sans", sans-serif' font-weight="bold" font-size="10.05" fill="#111">Wall normal stress in Pa</text>
<text transform="translate(15.0,117.5) rotate(-90)" text-anchor="middle" font-family='"Liberation Sans", sans-serif' font-weight="bold" font-size="10.25" fill="#111">Wall friction angle in °</text>
<rect x="42.5" y="157" width="62.5" height="64" fill="#fff"/>
<line x1="45.9" y1="164.6" x2="61.4" y2="164.6" stroke="#111111" stroke-width="1.7" stroke-dasharray="2.8 1.4"/>
<path d="M51.5,164.6 L53.5,162.79999999999998 L55.5,164.6 L53.5,166.4Z" fill="#111111"/>
<text transform="translate(64.75,167.5) scale(1,1.1)" font-family='"Liberation Sans", sans-serif' font-size="7.85" fill="#222" stroke="#222" stroke-width="0.18">S235JR</text>
<line x1="45.9" y1="177.4" x2="61.4" y2="177.4" stroke="#00B0F0" stroke-width="1.7" stroke-dasharray="2.7 1.5"/>
<path d="M51.5,177.4 L53.5,175.6 L55.5,177.4 L53.5,179.20000000000002Z" fill="#00B0F0"/>
<text transform="translate(64.75,180.3) scale(1,1.1)" font-family='"Liberation Sans", sans-serif' font-size="7.85" fill="#222" stroke="#222" stroke-width="0.18">SS 1.4301</text>
<line x1="45.9" y1="190.1" x2="61.4" y2="190.1" stroke="#7030A0" stroke-width="1.7" stroke-dasharray="4 3.9"/>
<path d="M51.5,190.1 L53.5,188.29999999999998 L55.5,190.1 L53.5,191.9Z" fill="#7030A0"/>
<text transform="translate(64.75,193) scale(1,1.1)" font-family='"Liberation Sans", sans-serif' font-size="7.85" fill="#222" stroke="#222" stroke-width="0.18">PE-UHMW</text>
<line x1="45.9" y1="202.6" x2="61.4" y2="202.6" stroke="#FF0000" stroke-width="1.7" stroke-dasharray="4 3.9"/>
<path d="M51.5,202.6 L53.5,200.79999999999998 L55.5,202.6 L53.5,204.4Z" fill="#FF0000"/>
<text transform="translate(64.75,205.5) scale(1,1.1)" font-family='"Liberation Sans", sans-serif' font-size="7.85" fill="#222" stroke="#222" stroke-width="0.18">Agrovan</text>
<line x1="45.9" y1="215.0" x2="61.4" y2="215.0" stroke="#00B050" stroke-width="1.7" stroke-dasharray="7.7 3.6"/>
<path d="M51.5,215.0 L53.5,213.2 L55.5,215.0 L53.5,216.8Z" fill="#00B050"/>
<text transform="translate(64.75,217.9) scale(1,1.1)" font-family='"Liberation Sans", sans-serif' font-size="7.85" fill="#222" stroke="#222" stroke-width="0.18">DLC</text>
<path d="M76,68.72 C76,68.72 109,91.97 109,91.97 C109,91.97 153.4,115.53 153.4,115.53 C153.4,115.53 194.9,128.86 194.9,128.86 C194.9,128.86 240.5,138.16 240.5,138.16" fill="none" stroke="#111111" stroke-width="1.4" stroke-dasharray="2.8 1.4"/>
<line x1="76.0" y1="64.38" x2="76.0" y2="73.06" stroke="#111111" stroke-width="1.0"/>
<line x1="73.6" y1="64.38" x2="78.4" y2="64.38" stroke="#111111" stroke-width="1.9"/>
<line x1="73.6" y1="73.06" x2="78.4" y2="73.06" stroke="#111111" stroke-width="1.9"/>
<path d="M74.5,68.72 L76,67.22 L77.5,68.72 L76,70.22Z" fill="#111111"/>
<line x1="109.0" y1="88.87" x2="109.0" y2="95.07" stroke="#111111" stroke-width="1.0"/>
<line x1="106.6" y1="88.87" x2="111.4" y2="88.87" stroke="#111111" stroke-width="1.9"/>
<line x1="106.6" y1="95.07" x2="111.4" y2="95.07" stroke="#111111" stroke-width="1.9"/>
<path d="M107.5,91.97 L109,90.47 L110.5,91.97 L109,93.47Z" fill="#111111"/>
<line x1="153.4" y1="112.43" x2="153.4" y2="118.63" stroke="#111111" stroke-width="1.0"/>
<line x1="151.0" y1="112.43" x2="155.8" y2="112.43" stroke="#111111" stroke-width="1.9"/>
<line x1="151.0" y1="118.63" x2="155.8" y2="118.63" stroke="#111111" stroke-width="1.9"/>
<path d="M151.9,115.53 L153.4,114.03 L154.9,115.53 L153.4,117.03Z" fill="#111111"/>
<line x1="194.9" y1="126.38" x2="194.9" y2="131.34" stroke="#111111" stroke-width="1.0"/>
<line x1="192.5" y1="126.38" x2="197.3" y2="126.38" stroke="#111111" stroke-width="1.9"/>
<line x1="192.5" y1="131.34" x2="197.3" y2="131.34" stroke="#111111" stroke-width="1.9"/>
<path d="M193.4,128.86 L194.9,127.36 L196.4,128.86 L194.9,130.36Z" fill="#111111"/>
<line x1="240.5" y1="134.44" x2="240.5" y2="141.88" stroke="#111111" stroke-width="1.0"/>
<line x1="238.1" y1="134.44" x2="242.9" y2="134.44" stroke="#111111" stroke-width="1.9"/>
<line x1="238.1" y1="141.88" x2="242.9" y2="141.88" stroke="#111111" stroke-width="1.9"/>
<path d="M239,138.16 L240.5,136.66 L242,138.16 L240.5,139.66Z" fill="#111111"/>
<path d="M76,75.23 C76,75.23 109,102.2 109,102.2 C109,102.2 153.4,131.65 153.4,131.65 C153.4,131.65 194.9,149.32 194.9,149.32 C194.9,149.32 240.5,158 240.5,158" fill="none" stroke="#00B0F0" stroke-width="1.5" stroke-dasharray="2.7 1.5"/>
<line x1="76.0" y1="73.37" x2="76.0" y2="77.09" stroke="#00B0F0" stroke-width="1.0"/>
<line x1="73.6" y1="73.37" x2="78.4" y2="73.37" stroke="#00B0F0" stroke-width="1.9"/>
<line x1="73.6" y1="77.09" x2="78.4" y2="77.09" stroke="#00B0F0" stroke-width="1.9"/>
<path d="M74.5,75.23 L76,73.73 L77.5,75.23 L76,76.73Z" fill="#00B0F0"/>
<line x1="109.0" y1="99.72" x2="109.0" y2="104.68" stroke="#00B0F0" stroke-width="1.0"/>
<line x1="106.6" y1="99.72" x2="111.4" y2="99.72" stroke="#00B0F0" stroke-width="1.9"/>
<line x1="106.6" y1="104.68" x2="111.4" y2="104.68" stroke="#00B0F0" stroke-width="1.9"/>
<path d="M107.5,102.2 L109,100.7 L110.5,102.2 L109,103.7Z" fill="#00B0F0"/>
<line x1="153.4" y1="129.17" x2="153.4" y2="134.13" stroke="#00B0F0" stroke-width="1.0"/>
<line x1="151.0" y1="129.17" x2="155.8" y2="129.17" stroke="#00B0F0" stroke-width="1.9"/>
<line x1="151.0" y1="134.13" x2="155.8" y2="134.13" stroke="#00B0F0" stroke-width="1.9"/>
<path d="M151.9,131.65 L153.4,130.15 L154.9,131.65 L153.4,133.15Z" fill="#00B0F0"/>
<line x1="194.9" y1="144.98" x2="194.9" y2="153.66" stroke="#00B0F0" stroke-width="1.0"/>
<line x1="192.5" y1="144.98" x2="197.3" y2="144.98" stroke="#00B0F0" stroke-width="1.9"/>
<line x1="192.5" y1="153.66" x2="197.3" y2="153.66" stroke="#00B0F0" stroke-width="1.9"/>
<path d="M193.4,149.32 L194.9,147.82 L196.4,149.32 L194.9,150.82Z" fill="#00B0F0"/>
<line x1="240.5" y1="154.9" x2="240.5" y2="161.1" stroke="#00B0F0" stroke-width="1.0"/>
<line x1="238.1" y1="154.9" x2="242.9" y2="154.9" stroke="#00B0F0" stroke-width="1.9"/>
<line x1="238.1" y1="161.1" x2="242.9" y2="161.1" stroke="#00B0F0" stroke-width="1.9"/>
<path d="M239,158 L240.5,156.5 L242,158 L240.5,159.5Z" fill="#00B0F0"/>
<path d="M76,62.21 C76,62.21 109,73.99 109,73.99 C109,73.99 153.4,94.14 153.4,94.14 C153.4,94.14 194.9,100.96 194.9,100.96 C194.9,100.96 240.5,105.3 240.5,105.3" fill="none" stroke="#7030A0" stroke-width="1.5" stroke-dasharray="4 3.9"/>
<line x1="76.0" y1="56.94" x2="76.0" y2="67.48" stroke="#7030A0" stroke-width="1.0"/>
<line x1="73.6" y1="56.94" x2="78.4" y2="56.94" stroke="#7030A0" stroke-width="1.9"/>
<line x1="73.6" y1="67.48" x2="78.4" y2="67.48" stroke="#7030A0" stroke-width="1.9"/>
<path d="M74.5,62.21 L76,60.71 L77.5,62.21 L76,63.71Z" fill="#7030A0"/>
<line x1="109.0" y1="70.27" x2="109.0" y2="77.71" stroke="#7030A0" stroke-width="1.0"/>
<line x1="106.6" y1="70.27" x2="111.4" y2="70.27" stroke="#7030A0" stroke-width="1.9"/>
<line x1="106.6" y1="77.71" x2="111.4" y2="77.71" stroke="#7030A0" stroke-width="1.9"/>
<path d="M107.5,73.99 L109,72.49 L110.5,73.99 L109,75.49Z" fill="#7030A0"/>
<line x1="153.4" y1="92.28" x2="153.4" y2="96" stroke="#7030A0" stroke-width="1.0"/>
<line x1="151.0" y1="92.28" x2="155.8" y2="92.28" stroke="#7030A0" stroke-width="1.9"/>
<line x1="151.0" y1="96" x2="155.8" y2="96" stroke="#7030A0" stroke-width="1.9"/>
<path d="M151.9,94.14 L153.4,92.64 L154.9,94.14 L153.4,95.64Z" fill="#7030A0"/>
<line x1="194.9" y1="99.1" x2="194.9" y2="102.82" stroke="#7030A0" stroke-width="1.0"/>
<line x1="192.5" y1="99.1" x2="197.3" y2="99.1" stroke="#7030A0" stroke-width="1.9"/>
<line x1="192.5" y1="102.82" x2="197.3" y2="102.82" stroke="#7030A0" stroke-width="1.9"/>
<path d="M193.4,100.96 L194.9,99.46 L196.4,100.96 L194.9,102.46Z" fill="#7030A0"/>
<line x1="240.5" y1="102.2" x2="240.5" y2="108.4" stroke="#7030A0" stroke-width="1.0"/>
<line x1="238.1" y1="102.2" x2="242.9" y2="102.2" stroke="#7030A0" stroke-width="1.9"/>
<line x1="238.1" y1="108.4" x2="242.9" y2="108.4" stroke="#7030A0" stroke-width="1.9"/>
<path d="M239,105.3 L240.5,103.8 L242,105.3 L240.5,106.8Z" fill="#7030A0"/>
<path d="M76,69.22 C76,69.22 109,69.34 109,69.34 C109,69.34 153.4,87.32 153.4,87.32 C153.4,87.32 194.9,94.14 194.9,94.14 C194.9,94.14 240.5,100.03 240.5,100.03" fill="none" stroke="#FF0000" stroke-width="1.5" stroke-dasharray="4 3.9"/>
<line x1="76.0" y1="66.61" x2="76.0" y2="71.82" stroke="#FF0000" stroke-width="1.0"/>
<line x1="73.6" y1="66.61" x2="78.4" y2="66.61" stroke="#FF0000" stroke-width="1.9"/>
<line x1="73.6" y1="71.82" x2="78.4" y2="71.82" stroke="#FF0000" stroke-width="1.9"/>
<path d="M74.5,69.22 L76,67.72 L77.5,69.22 L76,70.72Z" fill="#FF0000"/>
<line x1="109.0" y1="67.17" x2="109.0" y2="71.51" stroke="#FF0000" stroke-width="1.0"/>
<line x1="106.6" y1="67.17" x2="111.4" y2="67.17" stroke="#FF0000" stroke-width="1.9"/>
<line x1="106.6" y1="71.51" x2="111.4" y2="71.51" stroke="#FF0000" stroke-width="1.9"/>
<path d="M107.5,69.34 L109,67.84 L110.5,69.34 L109,70.84Z" fill="#FF0000"/>
<line x1="153.4" y1="85.46" x2="153.4" y2="89.18" stroke="#FF0000" stroke-width="1.0"/>
<line x1="151.0" y1="85.46" x2="155.8" y2="85.46" stroke="#FF0000" stroke-width="1.9"/>
<line x1="151.0" y1="89.18" x2="155.8" y2="89.18" stroke="#FF0000" stroke-width="1.9"/>
<path d="M151.9,87.32 L153.4,85.82 L154.9,87.32 L153.4,88.82Z" fill="#FF0000"/>
<line x1="194.9" y1="91.66" x2="194.9" y2="96.62" stroke="#FF0000" stroke-width="1.0"/>
<line x1="192.5" y1="91.66" x2="197.3" y2="91.66" stroke="#FF0000" stroke-width="1.9"/>
<line x1="192.5" y1="96.62" x2="197.3" y2="96.62" stroke="#FF0000" stroke-width="1.9"/>
<path d="M193.4,94.14 L194.9,92.64 L196.4,94.14 L194.9,95.64Z" fill="#FF0000"/>
<line x1="240.5" y1="96.31" x2="240.5" y2="103.75" stroke="#FF0000" stroke-width="1.0"/>
<line x1="238.1" y1="96.31" x2="242.9" y2="96.31" stroke="#FF0000" stroke-width="1.9"/>
<line x1="238.1" y1="103.75" x2="242.9" y2="103.75" stroke="#FF0000" stroke-width="1.9"/>
<path d="M239,100.03 L240.5,98.53 L242,100.03 L240.5,101.53Z" fill="#FF0000"/>
<path d="M76,105.3 C76,105.3 109,140.02 109,140.02 C109,140.02 153.4,171.02 153.4,171.02 C153.4,171.02 194.9,184.66 194.9,184.66 C194.9,184.66 240.5,195.51 240.5,195.51" fill="none" stroke="#00B050" stroke-width="1.6" stroke-dasharray="7.7 3.6"/>
<line x1="76.0" y1="99.72" x2="76.0" y2="110.88" stroke="#00B050" stroke-width="1.0"/>
<line x1="73.6" y1="99.72" x2="78.4" y2="99.72" stroke="#00B050" stroke-width="1.9"/>
<line x1="73.6" y1="110.88" x2="78.4" y2="110.88" stroke="#00B050" stroke-width="1.9"/>
<path d="M74.5,105.3 L76,103.8 L77.5,105.3 L76,106.8Z" fill="#00B050"/>
<line x1="109.0" y1="135.68" x2="109.0" y2="144.36" stroke="#00B050" stroke-width="1.0"/>
<line x1="106.6" y1="135.68" x2="111.4" y2="135.68" stroke="#00B050" stroke-width="1.9"/>
<line x1="106.6" y1="144.36" x2="111.4" y2="144.36" stroke="#00B050" stroke-width="1.9"/>
<path d="M107.5,140.02 L109,138.52 L110.5,140.02 L109,141.52Z" fill="#00B050"/>
<line x1="153.4" y1="167.92" x2="153.4" y2="174.12" stroke="#00B050" stroke-width="1.0"/>
<line x1="151.0" y1="167.92" x2="155.8" y2="167.92" stroke="#00B050" stroke-width="1.9"/>
<line x1="151.0" y1="174.12" x2="155.8" y2="174.12" stroke="#00B050" stroke-width="1.9"/>
<path d="M151.9,171.02 L153.4,169.52 L154.9,171.02 L153.4,172.52Z" fill="#00B050"/>
<line x1="194.9" y1="182.8" x2="194.9" y2="186.52" stroke="#00B050" stroke-width="1.0"/>
<line x1="192.5" y1="182.8" x2="197.3" y2="182.8" stroke="#00B050" stroke-width="1.9"/>
<line x1="192.5" y1="186.52" x2="197.3" y2="186.52" stroke="#00B050" stroke-width="1.9"/>
<path d="M193.4,184.66 L194.9,183.16 L196.4,184.66 L194.9,186.16Z" fill="#00B050"/>
<line x1="240.5" y1="194.27" x2="240.5" y2="196.75" stroke="#00B050" stroke-width="1.0"/>
<line x1="238.1" y1="194.27" x2="242.9" y2="194.27" stroke="#00B050" stroke-width="1.9"/>
<line x1="238.1" y1="196.75" x2="242.9" y2="196.75" stroke="#00B050" stroke-width="1.9"/>
<path d="M239,195.51 L240.5,194.01 L242,195.51 L240.5,197.01Z" fill="#00B050"/>
<text x="177.0" y="31.5" font-family='"Liberation Sans", sans-serif' font-weight="bold" font-size="13.5" fill="#000">Silica sand</text>
</g>
</svg>
</body></html>
